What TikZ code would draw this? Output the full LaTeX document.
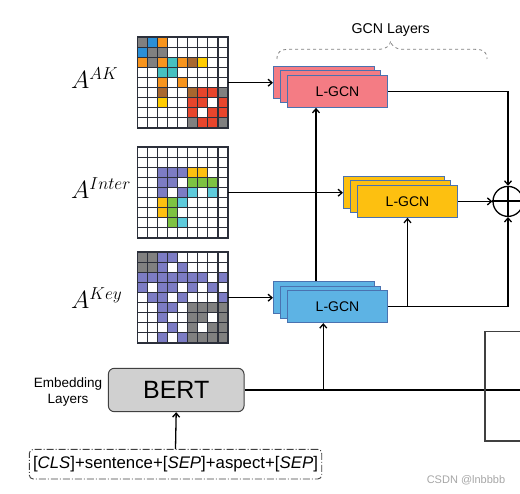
\documentclass[tikz,border=0pt]{standalone}
\usepackage{fontspec}
\setmainfont{Liberation Sans}
\usetikzlibrary{arrows.meta,calc}
\definecolor{cgray}{HTML}{808080}
\definecolor{cblue}{HTML}{2B8FD6}
\definecolor{corange}{HTML}{F7941D}
\definecolor{cteal}{HTML}{45C0C0}
\definecolor{cbrown}{HTML}{A8672E}
\definecolor{cyellow}{HTML}{FFCC00}
\definecolor{cred}{HTML}{E8452C}
\definecolor{cpurple}{HTML}{7C7CC4}
\definecolor{cyel}{HTML}{FDC010}
\definecolor{cgreen}{HTML}{7DC242}
\definecolor{clblue}{HTML}{5ECBDC}
\definecolor{cgrid}{HTML}{2B2F3A}
\definecolor{cpink}{HTML}{F47C84}
\definecolor{cyelbox}{HTML}{FDC010}
\definecolor{cbluebox}{HTML}{5DB3E4}
\definecolor{cborder}{HTML}{4A72B0}
\definecolor{cbert}{HTML}{D0D0D0}
\definecolor{cbertb}{HTML}{404040}
\newcommand\mygrid[4]{%
  \begin{scope}[shift={(#2,#3)}]
    \foreach \c/\r/\k in {#4} {\fill[\k] (\c*10.05,\r*10.05) rectangle ++(10.05,10.05);}
    \foreach \i in {0,...,9} {
      \draw[gridline] (\i*10.05,0) -- (\i*10.05,90.45);
      \draw[gridline] (0,\i*10.05) -- (90.45,\i*10.05);
    }
    \node[minimum size=90.45pt, inner sep=0, anchor=north west] (#1) at (0,0) {};
  \end{scope}}
\begin{document}
\begin{tikzpicture}[x=1pt,y=-1pt,
  gridline/.style={draw=cgrid, line width=1.6pt, line cap=rect},
  gcnbox/.style={draw=cborder, line width=0.9pt, minimum width=100.5pt, minimum height=32pt, inner sep=0, font=\fontsize{14}{16}\selectfont},
  conn/.style={line width=1.3pt, black},
  arr/.style={conn, -{Straight Barb[length=4pt,width=7pt]}},
  lab/.style={anchor=base west, inner sep=0, font=\fontsize{23}{25}\selectfont}]
\useasboundingbox (0,0) rectangle (520,494);
\clip (0,0) rectangle (520,494);

% grids
\mygrid{g1}{137.3}{37.3}{0/0/cgray,1/0/cblue,2/0/corange,
 0/1/cblue,1/1/cgray,2/1/cgray,
 0/2/corange,1/2/cgray,2/2/corange,3/2/cteal,4/2/corange,5/2/cbrown,6/2/cyellow,
 2/3/cteal,3/3/cteal,
 2/4/corange,4/4/corange,
 2/5/cbrown,5/5/cbrown,6/5/cred,7/5/cred,8/5/cgray,
 2/6/cyellow,5/6/cred,6/6/cred,8/6/cred,
 5/7/cred,7/7/cred,8/7/cred,
 5/8/cgray,6/8/cred,7/8/cred,8/8/cgray}
\mygrid{g2}{137.3}{147.3}{2/2/cpurple,3/2/cpurple,4/2/cpurple,5/2/cyel,6/2/cyel,
 2/3/cpurple,3/3/cpurple,5/3/cgreen,6/3/cgreen,7/3/cgreen,
 2/4/cpurple,4/4/cpurple,5/4/clblue,7/4/clblue,
 2/5/cyel,3/5/cgreen,4/5/clblue,
 2/6/cyel,3/6/cgreen,
 3/7/cgreen,4/7/clblue}
\mygrid{g3}{137.3}{252.3}{0/0/cgray,1/0/cgray,2/0/cpurple,3/0/cpurple,
 0/1/cgray,1/1/cgray,2/1/cpurple,4/1/cpurple,
 0/2/cpurple,1/2/cpurple,2/2/cpurple,3/2/cpurple,4/2/cpurple,5/2/cpurple,6/2/cpurple,8/2/cpurple,
 0/3/cpurple,2/3/cpurple,3/3/cpurple,5/3/cpurple,7/3/cpurple,
 1/4/cpurple,2/4/cpurple,4/4/cpurple,8/4/cpurple,
 2/5/cpurple,3/5/cpurple,5/5/cgray,6/5/cgray,7/5/cgray,8/5/cgray,
 2/6/cpurple,5/6/cgray,6/6/cgray,8/6/cgray,
 3/7/cpurple,5/7/cgray,7/7/cgray,8/7/cgray,
 2/8/cpurple,4/8/cpurple,5/8/cgray,6/8/cgray,7/8/cgray,8/8/cgray}

% labels
\node[lab] (l1) at (71,89) {$A^{AK}$};
\node[lab] (l2) at (71,199) {$A^{Inter}$};
\node[lab] (l3) at (71,309) {$A^{Key}$};

% GCN stacks
\node[gcnbox, fill=cpink] (pA) at (323.7,82.2) {};
\node[gcnbox, fill=cpink] (pB) at (330.6,86.8) {};
\node[gcnbox, fill=cpink] (pC) at (337.5,91.4) {L-GCN};
\node[gcnbox, fill=cyelbox] (yA) at (393.7,192.2) {};
\node[gcnbox, fill=cyelbox] (yB) at (400.6,196.8) {};
\node[gcnbox, fill=cyelbox] (yC) at (407.5,201.4) {L-GCN};
\node[gcnbox, fill=cbluebox] (bA) at (323.7,297.5) {};
\node[gcnbox, fill=cbluebox] (bB) at (330.6,302.1) {};
\node[gcnbox, fill=cbluebox] (bC) at (337.5,306.7) {L-GCN};

% GCN Layers label and brace
\node[font=\fontsize{14.2}{16}\selectfont] (gcnl) at (390.7,30) {GCN Layers};
\coordinate (brtop) at (390.7,41);
\draw[dashed, draw=gray, line width=0.8pt] (277,59) .. controls (277,52) and (280,49.3) .. (290,49.3) -- (378,49.3)
  .. controls (386,49.3) and (390,46) .. (brtop) .. controls (391.4,46) and (395.4,49.3) .. (403.4,49.3) -- (474,49.3)
  .. controls (484,49.3) and (487,52) .. (487,59);

% plus
\node[draw, circle, minimum size=30pt, line width=1.3pt, inner sep=0] (plus) at (508,201.4) {};
\draw[line width=1.8pt] (plus.north) -- (plus.south) (plus.west) -- (plus.east);

% arrows from grids
\draw[arr] (g1.east) -- (g1.east -| pA.west);
\draw[arr] (g2.east) -- (g2.east -| yA.west);
\draw[arr] (g3.east) -- (g3.east -| bA.west);

% GCN connections
\draw[arr] (pC.east) -| (plus.north);
\draw[arr] (yC.east) -- (plus.west);
\coordinate (j1) at (yC.south |- bC.east);
\draw[arr] (bC.east) -- (j1) -- (yC.south);
\draw[arr] (j1) -| (plus.south);
\coordinate (u1) at ($(bA.north)+(-7.7,0)$);
\draw[arr] (u1) -- (u1 |- pC.south);

% BERT
\node[draw=cbertb, line width=1pt, fill=cbert, rounded corners=6pt, minimum width=135.7pt, minimum height=43.4pt, inner sep=0, font=\fontsize{25}{25}\selectfont] (bert) at (176.2,390) {BERT};
\node[align=center, font=\fontsize{13.5}{16.7}\selectfont] (emb) at (68,392) {Embedding\\Layers};
\coordinate (rend) at (520,390);
\draw[conn] (bert.east) -- (rend);
\coordinate (u2) at (323.3,390);
\draw[arr] (u2) -- (u2 |- bC.south);

% right box (cropped)
\node[draw=cbertb, line width=1.1pt, minimum width=75pt, minimum height=109.3pt, inner sep=0] (outbox) at (522.5,386.35) {};

% input
\node[draw=cbertb, line width=0.9pt, dash pattern=on 7pt off 2pt on 1pt off 2pt, rounded corners=4pt, minimum width=292.4pt, minimum height=29.7pt, inner sep=0, font=\fontsize{16.8}{18}\selectfont] (inp) at (175.5,464.2) {[\textit{CLS}]+sentence+[\textit{SEP}]+aspect+[\textit{SEP}]};
\draw[arr] (inp.north) -- (bert.south);

% watermark
\node[text=gray!70, font=\fontsize{11}{12}\selectfont] (wm) at (466,480) {CSDN @lnbbbb};
\end{tikzpicture}
\end{document}
